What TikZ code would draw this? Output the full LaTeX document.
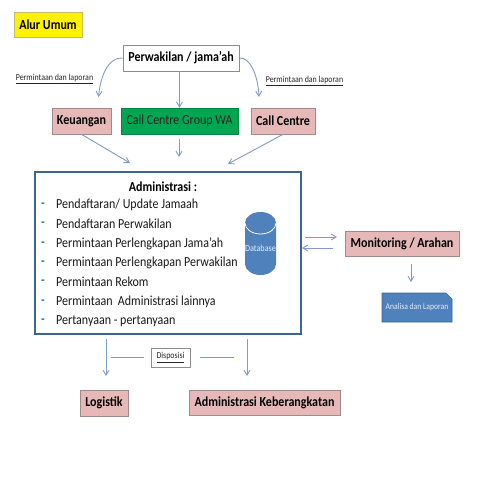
\documentclass[tikz,border=0pt]{standalone}
\usepackage{fontspec}
\setmainfont{Carlito}[FakeStretch=0.87]
\usetikzlibrary{arrows.meta}
\definecolor{linkblue}{HTML}{7F9CC4}
\definecolor{pinkbox}{HTML}{E6B9B8}
\definecolor{pinkedge}{HTML}{A08A8A}
\definecolor{framec}{HTML}{3F6490}
\definecolor{dbblue}{HTML}{4F81BD}
\definecolor{grpgreen}{HTML}{00A651}
\tikzset{
  x=1pt,y=-1pt,
  pinkbx/.style={draw=pinkedge,line width=0.7pt,fill=pinkbox,inner sep=0pt,font=\fontsize{13.8}{14}\selectfont\bfseries,text=black},
  link/.style={draw=linkblue,line width=0.9pt,-{Straight Barb[length=5pt,width=6pt]}},
  plainlink/.style={draw=linkblue,line width=0.9pt},
  listrow/.style={anchor=west,inner sep=0pt,font=\fontsize{13.8}{14}\selectfont,text=black!90},
  note/.style={inner sep=0pt,font=\fontsize{9.1}{9}\selectfont,text=black!85},
}
\newcommand{\bx}[5]{\node[pinkbx,minimum width=#3 pt,minimum height=#4 pt] (#5) at (#1,#2)}
\begin{document}
\begin{tikzpicture}
\useasboundingbox (0,0) rectangle (480,480);
\node[draw=yellow!60!black!70,line width=0.7pt,fill=yellow,inner sep=0pt,minimum width=68pt,minimum height=25pt,font=\fontsize{13.8}{14}\selectfont\bfseries] (alur) at (48,24.5) {Alur Umum};
\node[draw=black!45,line width=0.6pt,fill=white,inner sep=0pt,minimum width=116pt,minimum height=26pt,font=\fontsize{13.8}{14}\selectfont\bfseries] (perw) at (181,58) {Perwakilan / jama’ah};
\bx{81.5}{121}{59}{26}{keu} {Keuangan};
\node[draw=grpgreen!80!black,line width=0.6pt,fill=grpgreen,inner sep=0pt,minimum width=117pt,minimum height=26pt,font=\fontsize{13.8}{14}\selectfont,text=black!85] (grp) at (179.5,121) {Call Centre Group WA};
\bx{283}{121}{64}{26}{cc} {Call Centre};
\node[draw=framec,line width=1.4pt,fill=white,inner sep=0pt,minimum width=266pt,minimum height=162pt] (adm) at (168,253) {};
\node[inner sep=0pt,font=\fontsize{13.8}{14}\selectfont\bfseries] (admt) at (163,187) {Administrasi :};
\foreach \yy/\rowtext in {205/{Pendaftaran/ Update Jamaah},224/{Pendaftaran Perwakilan},244/{Permintaan Perlengkapan Jama’ah},263/{Permintaan Perlengkapan Perwakilan},282/{Permintaan Rekom},302/{Permintaan\ \ Administrasi lainnya},321/{Pertanyaan - pertanyaan}}{
  \node[listrow] (d\yy) at (41,\yy) {-};
  \node[listrow] (r\yy) at (56,\yy) {\rowtext};
}
% database
\path[fill=dbblue] (245,223) arc[x radius=15.5pt,y radius=11pt,start angle=180,end angle=0] -- (276,264) arc[x radius=15.5pt,y radius=11pt,start angle=0,end angle=-180] -- cycle;
\draw[white,line width=0.8pt] (245,223) arc[x radius=15.5pt,y radius=11pt,start angle=180,end angle=360];
\node[inner sep=0pt,font=\fontsize{9.4}{9}\selectfont,text=white!85!dbblue] (db) at (260.5,248) {Database};
\bx{402}{243.5}{114}{25}{mon} {Monitoring / Arahan};
% analisa
\path[draw=framec,line width=0.6pt,fill=dbblue] (382,293) -- (446,293) -- (452,299) -- (452,322) -- (382,322) -- cycle;
\node[inner sep=0pt,font=\fontsize{8.8}{9}\selectfont,text=white!85!dbblue] (ana) at (417,307) {Analisa dan Laporan};
\bx{104}{403}{48}{26}{log} {Logistik};
\bx{264.5}{402.5}{151}{25}{keb} {Administrasi Keberangkatan};
\node[draw=black!45,line width=0.5pt,fill=white,inner sep=0pt,minimum width=39pt,minimum height=19pt,font=\fontsize{9.1}{9}\selectfont,text=black!85] (dis) at (170.5,357.5) {\underline{Disposisi}};
\node[note] (n1) at (54.5,79) {\underline{Permintaan dan laporan}};
\node[note] (n2) at (304.5,81) {\underline{Permintaan dan laporan}};
% free ends
\coordinate (a1) at (98.5,97);
\coordinate (a2) at (259,97);
\coordinate (a3) at (130,163);
\coordinate (a4) at (179,157);
\coordinate (a5) at (228,164);
\coordinate (a6) at (179,139);
\coordinate (m1) at (305,237);
\coordinate (m2) at (337,237);
\coordinate (m3) at (333,248);
\coordinate (m4) at (302,248);
\coordinate (m5) at (411,264);
\coordinate (m6) at (411,282);
\coordinate (b1) at (106,339);
\coordinate (b2) at (106,376);
\coordinate (b3) at (247,339);
\coordinate (b4) at (247,376);
\coordinate (l1) at (111,357);
\coordinate (l2) at (144,357);
\coordinate (l3) at (200,357);
\coordinate (l4) at (234,357);
\draw[link] (perw.west) .. controls (110,57) and (101,72) .. (a1);
\draw[link] (perw.east) .. controls (250,57) and (258,75) .. (a2);
\draw[link] (perw.south -| grp.north) -- (grp.north);
\draw[link] (keu.south) -- (a3);
\draw[link] (a6) -- (a4);
\draw[link] (cc.south) -- (a5);
\draw[link] (m1) -- (m2);
\draw[link] (m3) -- (m4);
\draw[link] (m5) -- (m6);
\draw[link] (b1) -- (b2);
\draw[link] (b3) -- (b4);
\draw[plainlink] (l1) -- (l2);
\draw[plainlink] (l3) -- (l4);
\end{tikzpicture}
\end{document}
